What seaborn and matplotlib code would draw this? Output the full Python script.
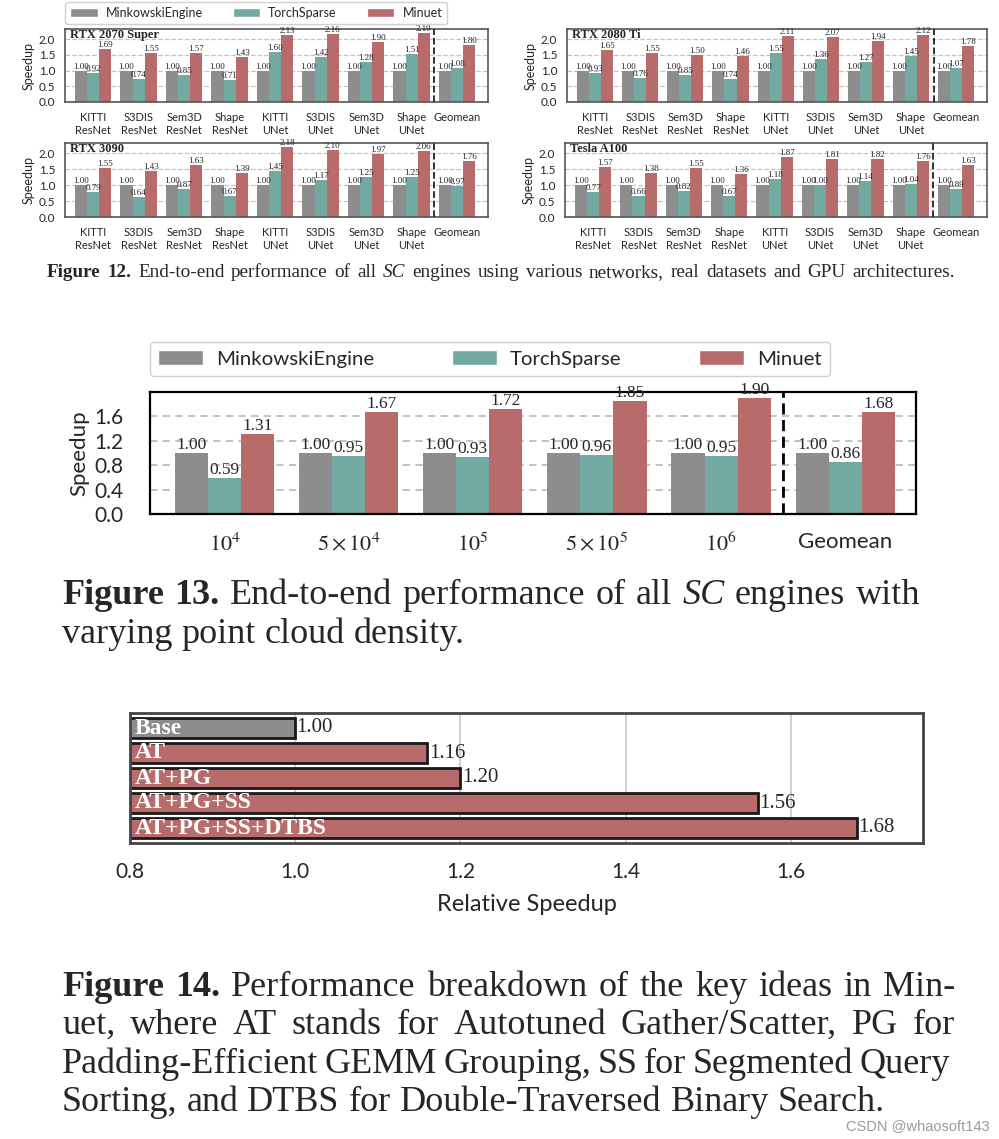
import numpy as np
import pandas as pd
import matplotlib
matplotlib.use("Agg")
import matplotlib.pyplot as plt
from matplotlib.patches import Patch
import seaborn as sns

# ---- data ----
workloads = ["KITTI\nResNet", "S3DIS\nResNet", "Sem3D\nResNet", "Shape\nResNet",
             "KITTI\nUNet", "S3DIS\nUNet", "Sem3D\nUNet", "Shape\nUNet", "Geomean"]
engines = ["MinkowskiEngine", "TorchSparse", "Minuet"]
gpus = ["RTX 2070 Super", "RTX 2080 Ti", "RTX 3090", "Tesla A100"]

me_2070 = [1.00, 1.00, 1.00, 1.00, 1.00, 1.00, 1.00, 1.00, 1.00]
ts_2070 = [0.92, 0.74, 0.85, 0.71, 1.60, 1.42, 1.28, 1.51, 1.08]
mn_2070 = [1.69, 1.55, 1.57, 1.43, 2.13, 2.16, 1.90, 2.19, 1.80]

me_2080 = [1.00, 1.00, 1.00, 1.00, 1.00, 1.00, 1.00, 1.00, 1.00]
ts_2080 = [0.93, 0.76, 0.85, 0.74, 1.55, 1.36, 1.27, 1.45, 1.07]
mn_2080 = [1.65, 1.55, 1.50, 1.46, 2.11, 2.07, 1.94, 2.12, 1.78]

me_3090 = [1.00, 1.00, 1.00, 1.00, 1.00, 1.00, 1.00, 1.00, 1.00]
ts_3090 = [0.79, 0.64, 0.87, 0.67, 1.45, 1.17, 1.25, 1.25, 0.97]
mn_3090 = [1.55, 1.43, 1.63, 1.39, 2.18, 2.10, 1.97, 2.06, 1.76]

me_a100 = [1.00, 1.00, 1.00, 1.00, 1.00, 1.00, 1.00, 1.00, 1.00]
ts_a100 = [0.77, 0.66, 0.82, 0.67, 1.18, 1.00, 1.14, 1.04, 0.89]
mn_a100 = [1.57, 1.38, 1.55, 1.36, 1.87, 1.81, 1.82, 1.76, 1.63]

densities = ["$10^4$", "$5\\times10^4$", "$10^5$", "$5\\times10^5$", "$10^6$", "Geomean"]
me_density = [1.00, 1.00, 1.00, 1.00, 1.00, 1.00]
ts_density = [0.59, 0.95, 0.93, 0.96, 0.95, 0.86]
mn_density = [1.31, 1.67, 1.72, 1.85, 1.90, 1.68]

ablation = ["Base", "AT", "AT+PG", "AT+PG+SS", "AT+PG+SS+DTBS"]
ablation_speedup = [1.00, 1.16, 1.20, 1.56, 1.68]

GRAY, TEAL, RED = "#8d8d8d", "#72aaa1", "#b76b6b"
palette = dict(zip(engines, [GRAY, TEAL, RED]))
SANS, SERIF = "Lato", "Liberation Serif"

sns.set_style("white")
plt.rcParams["font.family"] = [SANS, "DejaVu Sans"]
plt.rcParams["mathtext.fontset"] = "stix"

W, H = 999, 1139
fig = plt.figure(figsize=(W / 100, H / 100), dpi=100)


def place(l, t, r, b):
    return fig.add_axes([l / W, 1 - b / H, (r - l) / W, (b - t) / H])


def long_table(labels, me, ts, mn):
    return pd.DataFrame({
        "label": labels * 3,
        "engine": np.repeat(engines, len(labels)),
        "speedup": me + ts + mn,
    })


def engine_bars(ax, df, order, value_size):
    sns.barplot(data=df, x="label", y="speedup", hue="engine", order=order,
                hue_order=engines, palette=palette, saturation=1, linewidth=0,
                legend=False, ax=ax, zorder=2)
    for c in ax.containers:
        for t in ax.bar_label(c, fmt="%.2f", padding=0, fontsize=value_size, family=SERIF):
            t.set_zorder(6)
            t.set_clip_on(False)
    ax.set_xlabel("")
    ax.set_axisbelow(True)


def engine_legend(anchor, size, colsp):
    fig.legend(handles=[Patch(facecolor=palette[e], label=e) for e in engines],
               loc="upper left", bbox_to_anchor=anchor, borderaxespad=0, ncol=3,
               fontsize=size, handlelength=2.2, handleheight=0.75, handletextpad=0.65,
               columnspacing=colsp, borderpad=0.4, frameon=True, edgecolor="#d0d0d0",
               fancybox=True, framealpha=1)


# ---- Figure 12: four GPU panels ----
panel_data = [
    (me_2070, ts_2070, mn_2070), (me_2080, ts_2080, mn_2080),
    (me_3090, ts_3090, mn_3090), (me_a100, ts_a100, mn_a100),
]
boxes = [(65, 29, 488, 102), (567, 29, 987, 102), (65, 143, 488, 217), (565, 143, 987, 217)]

for gpu, (me, ts, mn), box in zip(gpus, panel_data, boxes):
    ax = place(*box)
    engine_bars(ax, long_table(workloads, me, ts, mn), workloads, 6.5)
    ax.set_ylim(0, 2.32)
    ax.set_xlim(-0.62, 8.68)
    ax.set_yticks([0, 0.5, 1.0, 1.5, 2.0])
    ax.set_yticklabels(["0.0", "0.5", "1.0", "1.5", "2.0"])
    ax.grid(axis="y", ls="--", color="#c4c4c4", lw=0.9)
    ax.axvline(7.5, color="#222222", ls="--", lw=1.3, zorder=3)
    ax.set_ylabel("Speedup", fontsize=9, labelpad=3)
    ax.tick_params(axis="y", length=3, pad=4, labelsize=8.5, color="#555555")
    ax.tick_params(axis="x", length=3, pad=4, labelsize=8, color="#555555")
    for s in ax.spines.values():
        s.set_color("#555555")
        s.set_linewidth(1.2)
    ax.text(0.012, 1.0, gpu, transform=ax.transAxes, ha="left", va="top",
            fontsize=9, weight="bold", family=SERIF, zorder=5)

engine_legend((65 / W, 1 - 2 / H), 9, 2.4)

# ---- Figure 13: point cloud density ----
ax13 = place(150, 392, 916, 514)
engine_bars(ax13, long_table(densities, me_density, ts_density, mn_density), densities, 12.5)
ax13.set_ylim(0, 2.0)
ax13.set_xlim(-0.6, 5.57)
ax13.set_yticks([0, 0.4, 0.8, 1.2, 1.6])
ax13.set_yticklabels(["0.0", "0.4", "0.8", "1.2", "1.6"])
ax13.grid(axis="y", ls="--", color="#bdbdbd", lw=1.3, dashes=(4, 3))
ax13.axvline(4.5, color="black", ls="--", lw=2, dashes=(4, 2), zorder=3)
ax13.set_ylabel("Speedup", fontsize=16, labelpad=4)
ax13.tick_params(axis="y", length=7, width=1.5, pad=12, labelsize=15)
ax13.tick_params(axis="x", length=7, width=1.5, pad=6, labelsize=16)
for s in ax13.spines.values():
    s.set_color("black")
    s.set_linewidth(1.6)

engine_legend((150 / W, 1 - 342 / H), 14.7, 3.8)

# ---- Figure 14: breakdown ----
ax14 = place(130, 713, 923, 843)
sns.barplot(x=ablation_speedup, y=ablation, hue=ablation, orient="h",
            palette=[GRAY, RED, RED, RED, RED], saturation=1, edgecolor="#1a1a1a",
            linewidth=2, legend=False, ax=ax14, zorder=2)
ax14.set_xlim(0.8, 1.76)
ax14.set_ylim(4.6, -0.6)
for i, name in enumerate(ablation):
    ax14.text(0.806, i, name, color="white", weight="bold", family=SERIF,
              fontsize=17, va="center", ha="left", zorder=4)
for c in ax14.containers:
    ax14.bar_label(c, fmt="%.2f", padding=1, fontsize=15, family=SERIF)
ax14.set_xticks([0.8, 1.0, 1.2, 1.4, 1.6])
ax14.set_xticklabels(["0.8", "1.0", "1.2", "1.4", "1.6"])
ax14.set_yticks([])
ax14.set_ylabel("")
ax14.grid(axis="x", color="#c8c8c8", lw=1.2)
ax14.set_axisbelow(True)
ax14.set_xlabel("Relative Speedup", fontsize=17, labelpad=8)
ax14.tick_params(axis="x", length=7, width=1.5, pad=7, labelsize=15)
for s in ax14.spines.values():
    s.set_color("#444444")
    s.set_linewidth(2)

# ---- captions ----
renderer = fig.canvas.get_renderer()
BOLD = {"weight": "bold"}
ITAL = {"style": "italic"}
PLAIN = {}


def caption_line(x, baseline, segments, size, width=None):
    words = []
    for text, style in segments:
        words += [(w, style) for w in text.split()]
    arts = [fig.text(x / W, 1 - baseline / H, w, fontsize=size, family=SERIF,
                     va="baseline", ha="left", **st) for w, st in words]
    widths = [a.get_window_extent(renderer).width for a in arts]
    gap = 0.25 * size * 100 / 72
    if width is not None and len(arts) > 1:
        gap = max((width - sum(widths)) / (len(arts) - 1), 0.12 * size * 100 / 72)
    cx = x
    for a, w in zip(arts, widths):
        a.set_x(cx / W)
        cx += w + gap


caption_line(47, 277, [("Figure 12.", BOLD), ("End-to-end performance of all", PLAIN), ("SC", ITAL),
                       ("engines using various networks, real datasets and GPU architectures.", PLAIN)],
             13.8, width=908)

caption_line(62, 604, [("Figure 13.", BOLD), ("End-to-end performance of all", PLAIN), ("SC", ITAL),
                       ("engines with", PLAIN)], 26, width=858)
caption_line(62, 643, [("varying point cloud density.", PLAIN)], 26)

caption_line(62, 996, [("Figure 14.", BOLD), ("Performance breakdown of the key ideas in Min-", PLAIN)],
             26, width=893)
caption_line(62, 1034, [("uet, where AT stands for Autotuned Gather/Scatter, PG for", PLAIN)], 26, width=893)
caption_line(62, 1073, [("Padding-Efficient GEMM Grouping, SS for Segmented Query", PLAIN)], 26, width=888)
caption_line(62, 1111, [("Sorting, and DTBS for Double-Traversed Binary Search.", PLAIN)], 26)

fig.text(990 / W, 1 - 1130 / H, "CSDN @whaosoft143", ha="right", va="baseline",
         fontsize=10.5, color="#9a9a9a", family="Liberation Sans")

fig.savefig("out.png", dpi=100)
